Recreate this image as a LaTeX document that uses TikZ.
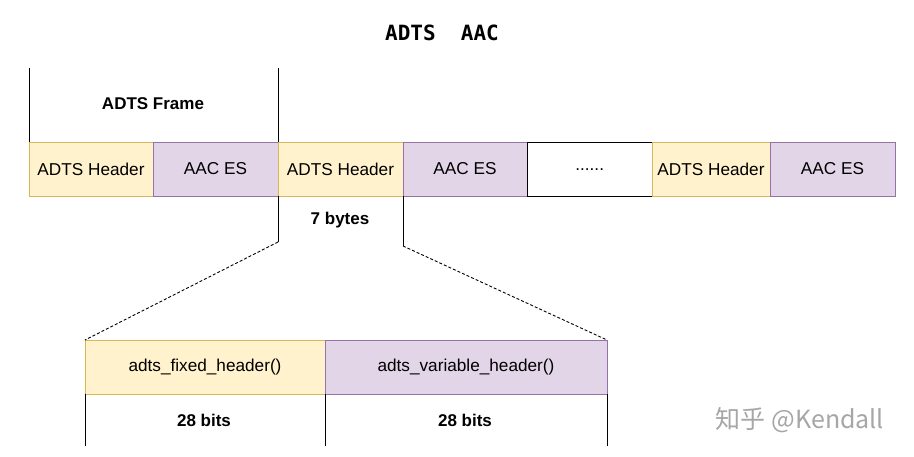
\documentclass[tikz,border=0pt]{standalone}
\usepackage{fontspec}
\setmainfont{Liberation Sans}
\newfontfamily\cjk{Noto Sans CJK SC}
\newfontfamily\titlefont{DejaVu Sans Mono}
\definecolor{yfill}{HTML}{FFF2CC}\definecolor{ydraw}{HTML}{D6B656}
\definecolor{pfill}{HTML}{E1D5E7}\definecolor{pdraw}{HTML}{9673A6}
\begin{document}
\begin{tikzpicture}[x=1pt,y=-1pt,font=\fontsize{17.2}{20}\selectfont,
 yb/.style={draw=ydraw,fill=yfill,minimum height=54pt,inner sep=0pt,outer sep=0pt,anchor=north west},
 pb/.style={draw=pdraw,fill=pfill,minimum height=54pt,inner sep=0pt,outer sep=0pt,anchor=north west},
 lbl/.style={font=\fontsize{17}{20}\selectfont\bfseries},
 ln/.style={line width=0.9pt}]
\useasboundingbox (0,0) rectangle (914,457);
\node[font=\titlefont\fontsize{21}{25}\selectfont\bfseries] (title) at (442,33) {ADTS\ \ AAC};
\node[yb,minimum width=124pt] (h1) at (29,142) {ADTS Header};
\node[pb,minimum width=125pt] (e1) at (153,142) {AAC ES};
\node[yb,minimum width=125pt] (h2) at (278,142) {ADTS Header};
\node[pb,minimum width=124pt] (e2) at (403,142) {AAC ES};
\node[draw,fill=white,minimum height=54pt,minimum width=125pt,anchor=north west,inner sep=0pt] (dots) at (527,142) {......};
\node[yb,minimum width=118pt] (h3) at (652,142) {ADTS Header};
\node[pb,minimum width=125pt] (e3) at (770,142) {AAC ES};
\coordinate (a1) at (29,68); \coordinate (a2) at (278,68);
\draw[ln] (a1) -- (h1.north west); \draw[ln] (a2) -- (h2.north west);
\node[lbl] (frame) at (153,104) {ADTS Frame};
\coordinate (b1) at (278,242); \coordinate (b2) at (403,246);
\draw[ln] (h2.south west) -- (b1); \draw[ln] (e2.south west) -- (b2);
\node[lbl] (bytes) at (340,220) {7 bytes};
\node[yb,minimum width=240pt] (fh) at (85,340) {adts\_fixed\_header()};
\node[pb,minimum width=282pt] (vh) at (325,340) {adts\_variable\_header()};
\draw[ln,dashed,dash pattern=on 3pt off 2pt] (b1) -- (fh.north west);
\draw[ln,dashed,dash pattern=on 3pt off 2pt] (b2) -- (vh.north east);
\coordinate (c1) at (85,446); \coordinate (c2) at (325,446); \coordinate (c3) at (607,446);
\draw[ln] (fh.south west) -- (c1); \draw[ln] (vh.south west) -- (c2); \draw[ln] (vh.south east) -- (c3);
\node[lbl] (bits1) at (204,420) {28 bits};
\node[lbl] (bits2) at (465,420) {28 bits};
\node[text=gray!70,font=\cjk\fontsize{25}{29}\selectfont] (wm) at (800,420) {知乎 @Kendall};
\end{tikzpicture}
\end{document}
